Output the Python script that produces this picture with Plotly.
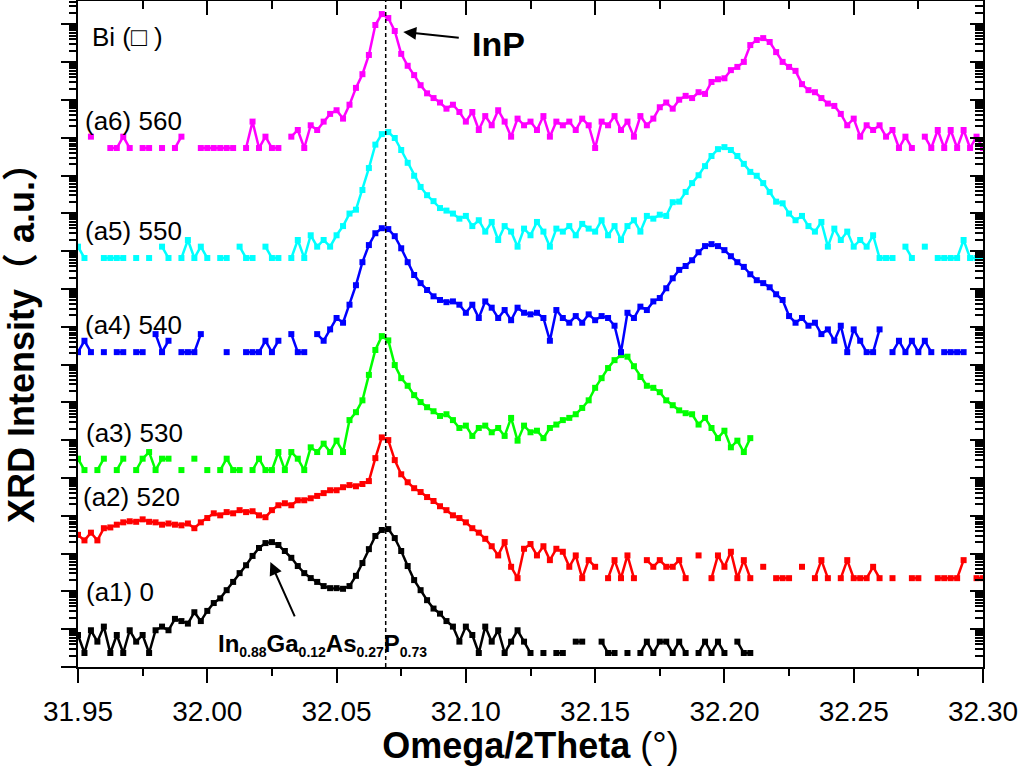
import plotly.graph_objects as go

# ---- scan grid ----
x_start = 31.95
x_step = 0.0025

# ---- counts (0 = no counts -> gap on log scale) ----
a1_counts = [3, 1, 4, 2, 5, 1, 3, 1, 4, 2, 3, 1,
             4, 5, 4,
             8, 7, 6, 12, 7, 13,
             21, 28, 46, 76, 130, 210, 370, 600, 810, 860,
             720, 500, 330, 200, 130, 96, 76, 59, 52, 52, 50, 59,
             110, 240, 560, 1250, 1800, 1900, 1100, 500, 200, 85, 46, 25, 15, 11, 7,
             5, 2, 5, 3, 1, 5, 2, 4, 1, 2, 4,
             2, 1, 0, 1, 0, 1, 1, 0, 2, 2, 0, 0, 2, 1, 1, 0, 1, 0, 1,
             2, 1, 2, 2, 1, 2, 1, 0, 1, 2, 1, 2, 1, 0, 2, 1, 1]

a2_counts = [14, 10, 16, 10, 21, 22, 26, 30, 32, 31,
             36, 31, 30, 26, 28, 26, 25, 28, 21, 30,
             39, 52, 46, 56, 52, 63, 56, 59, 46, 41,
             63, 85, 96, 85, 115, 115, 130, 150, 178, 212,
             212, 255, 290, 270, 310, 370,
             1500, 5300, 4500, 1330,
             560, 345, 240, 190, 140, 110, 80, 63, 46, 39, 30, 21, 16, 11, 7,
             4, 9, 2, 1, 6, 8, 4, 7, 3, 6, 5, 2, 4, 1, 3,
             2, 0, 1, 3, 1, 4, 1, 0, 3, 2, 3, 2,
             2, 3, 1, 0, 4, 0, 1, 4, 2, 5,
             1, 3, 1, 0, 2, 0, 1, 1, 1, 0,
             2, 0, 1, 3, 1, 0, 1, 3, 1, 1,
             1, 2, 1, 0, 1, 0, 0, 1, 1, 0,
             0, 1, 1, 1, 1, 3, 0, 1, 1]

a3_counts = [2, 1, 0, 1, 2, 0, 1, 2, 0, 1, 2, 3, 1, 2, 2, 0, 1, 0, 2, 0,
             1, 0, 1, 2, 1, 1, 0, 1, 2, 1,
             1, 3, 1, 3, 2, 1, 4, 3, 5, 3, 6, 3,
             21, 34, 70, 330, 1500, 3500, 2700, 600, 270, 170, 96, 63, 46, 36, 27,
             30, 21, 13, 15, 8, 13, 15, 10, 13, 8, 24, 6, 15, 10, 11, 7, 13, 16, 21, 24, 30,
             44, 70, 150, 270, 500, 810, 1100, 1000, 560, 290, 170, 150, 115, 70,
             52, 38, 32, 30, 16, 24, 13, 7, 11, 4, 6, 3, 7]

a4_counts = [1, 2, 1, 0, 1, 0, 1, 1, 0, 1, 1, 0, 3, 1, 2, 0, 1, 1, 1, 3,
             0, 0, 0, 1, 0, 0, 1,
             1, 1, 2, 1, 2, 0, 3, 1, 1, 0, 3, 2,
             4, 8, 6, 18, 59, 240, 680, 1400, 1900, 1800, 1170, 560, 240, 110, 67, 44,
             30, 24, 21, 22, 18,
             11, 18, 8, 22, 15, 8, 13, 7, 15, 11, 10, 11, 8, 2, 13, 8, 6, 9, 6, 10,
             7, 9, 8, 5, 1,
             11, 8, 16, 13, 22, 27, 49, 90, 150, 190, 270, 440, 640, 720, 640, 500,
             345, 240, 180, 115, 80, 67, 52, 34, 24,
             9, 6, 8, 5, 6, 3, 4, 2, 5, 1, 4, 2, 1, 1, 4, 0, 1, 2, 1, 2, 1, 2, 1, 0,
             1, 1, 1, 1]

a5_counts = [2, 1, 0, 0, 1, 1, 1, 1, 0, 1, 0, 1, 0, 2, 1, 0, 1, 3, 1, 2,
             1, 0, 1, 1, 0, 2, 1, 1, 0, 2, 1, 1, 0, 1, 3,
             1, 4, 2, 3,
             2, 4, 7, 15, 19, 63, 240, 1000, 1900, 2150, 1500, 720, 330, 150, 76, 46,
             32, 21, 18, 15,
             11, 13, 7, 10, 5, 9, 3, 7, 5, 2, 6, 4, 9, 5, 2, 6, 5, 7, 4, 8, 6, 5, 10,
             4, 7, 3, 7, 10, 5, 13, 11, 14, 13,
             30, 31, 56, 96, 155, 270, 500, 760, 860, 720, 500, 310, 190, 150, 96, 56,
             31, 28, 15, 10, 13, 7, 5, 9,
             2, 6, 3, 5, 2, 3, 2, 4, 1, 1, 1, 0, 2, 1, 0, 2, 0, 1, 1, 1, 1, 3, 1, 1, 1]

a6_counts = [0, 0, 2, 0, 0, 1, 1, 2, 1, 0, 1, 1, 0, 1, 0, 1, 2, 0, 0, 1,
             1, 1, 1, 1, 1, 0, 1, 5, 1, 2, 1, 1, 0, 2, 3,
             1, 4, 3, 5, 8, 10, 6, 14,
             39, 90, 290, 1800, 3500, 2750, 1250, 310, 150, 85, 46, 28, 21, 16, 11, 14,
             9, 5, 9, 3, 7, 4, 10, 5, 2, 6, 4, 5, 3, 7, 2, 5, 4, 5, 3, 6, 4, 1, 5, 4,
             7, 3, 5, 2, 7, 4, 6, 12, 16, 11,
             19, 24, 21, 30, 27, 56, 66, 70, 115, 140, 190, 530, 720, 810, 640, 345,
             190, 140, 110, 49, 34, 30, 21, 15, 13, 8,
             4, 6, 2, 4, 3, 4, 2, 3, 1, 2, 1, 0, 2, 1, 3, 1, 3, 1, 3, 1, 2, 1]

# vertical stacking offsets (decades) and styling per curve
curve_names = ["(a1) 0", "(a2) 520", "(a3) 530", "(a4) 540", "(a5) 550", "(a6) 560"]
curve_counts = [a1_counts, a2_counts, a3_counts, a4_counts, a5_counts, a6_counts]
curve_offsets = [0.37, 2.35, 5.21, 8.33, 10.82, 13.73]
curve_colors = ["#000000", "#FF0000", "#00FF00", "#0000FF", "#00FFFF", "#FF00FF"]

inp_position = 32.069

FONT = "Liberation Sans, Arial, Noto Sans CJK SC, sans-serif"

fig = go.Figure()
for name, counts, off, col in zip(curve_names, curve_counts, curve_offsets, curve_colors):
    xs = [round(x_start + x_step * i, 4) for i in range(len(counts))]
    ys = [(10 ** off) * c if c > 0 else None for c in counts]
    fig.add_trace(go.Scatter(
        x=xs, y=ys, mode="lines+markers", name=name,
        line=dict(color=col, width=2.5),
        marker=dict(symbol="square", size=6, color=col, line=dict(width=0)),
        connectgaps=False, showlegend=False, hoverinfo="skip"))

# dummy trace so the mirrored (top / right) axes are drawn
fig.add_trace(go.Scatter(x=[None], y=[None], xaxis="x2", yaxis="y2",
                         showlegend=False, hoverinfo="skip"))

ymax = 17.62
xr = [31.95, 32.30]

fig.update_layout(
    width=1020, height=766,
    margin=dict(l=78, r=37, t=1, b=99),
    paper_bgcolor="white", plot_bgcolor="white",
    font=dict(family=FONT, color="black"),
    xaxis=dict(range=xr, tick0=31.95, dtick=0.05, tickformat=".2f",
               ticks="outside", ticklen=14, tickwidth=2, tickcolor="black",
               minor=dict(ticks="outside", dtick=0.025, ticklen=7, tickwidth=2,
                          tickcolor="black"),
               showline=True, linewidth=2, linecolor="black", showgrid=False,
               zeroline=False, tickfont=dict(size=28, family=FONT),
               ticklabelstandoff=4,
               title=dict(text="<b>Omega/2Theta</b> (°)", font=dict(size=36, family=FONT),
                          standoff=10)),
    xaxis2=dict(range=xr, overlaying="x", side="top", anchor="y",
                tick0=31.95, dtick=0.05, ticks="inside", ticklen=14, tickwidth=2,
                tickcolor="black",
                minor=dict(ticks="inside", dtick=0.025, ticklen=8, tickwidth=2,
                           tickcolor="black"),
                showline=True, linewidth=2, linecolor="black", showgrid=False,
                zeroline=False, showticklabels=False),
    yaxis=dict(type="log", range=[0, ymax], dtick=1,
               ticks="outside", ticklen=15, tickwidth=2, tickcolor="black",
               minor=dict(ticks="outside", dtick="D1", ticklen=7, tickwidth=1.5,
                          tickcolor="black"),
               showline=True, linewidth=2, linecolor="black", showgrid=False,
               zeroline=False, showticklabels=False,
               title=dict(text="<b>XRD Intensity（ a.u.）</b>",
                          font=dict(size=36, family=FONT), standoff=15)),
    yaxis2=dict(type="log", range=[0, ymax], overlaying="y", side="right", anchor="x",
                dtick=1, ticks="inside", ticklen=13, tickwidth=2, tickcolor="black",
                minor=dict(ticks="inside", dtick="D1", ticklen=8, tickwidth=1.5,
                           tickcolor="black"),
                showline=True, linewidth=2, linecolor="black", showgrid=False,
                zeroline=False, showticklabels=False),
    shapes=[dict(type="line", xref="x", yref="paper", x0=inp_position, x1=inp_position,
                 y0=0, y1=1, line=dict(color="black", width=1.5, dash="4px,3px"))],
)

# curve labels
label_x = [31.9524, 31.9513, 31.9524, 31.9521, 31.9521, 31.9521]
label_y = [1.98, 4.50, 6.19, 9.05, 11.53, 14.44]
for name, lx, ly in zip(curve_names, label_x, label_y):
    fig.add_annotation(x=lx, y=ly, text=name, showarrow=False, xanchor="left",
                       yanchor="middle", font=dict(size=26, family=FONT))

fig.add_annotation(x=31.9548, y=16.67, text="Bi (□ )", showarrow=False,
                   xanchor="left", yanchor="middle", font=dict(size=26, family=FONT))

# InP label and arrow
fig.add_annotation(x=32.1125, y=16.48, text="<b>InP</b>", showarrow=False,
                   xanchor="center", yanchor="middle", font=dict(size=34, family=FONT))
fig.add_annotation(x=32.0758, y=16.80, text="", showarrow=True, ax=57, ay=6,
                   arrowhead=2, arrowsize=1.3, arrowwidth=2, arrowcolor="black")

# InGaAsP label and arrow
sub = "<sub><span style='font-size:14px'>%s</span></sub>"
fig.add_annotation(x=32.0032, y=0.58,
                   text="<b>In" + sub % "0.88" + "Ga" + sub % "0.12" + "As" + sub % "0.27"
                        + "P" + sub % "0.73" + "</b>",
                   showarrow=False, xanchor="left", yanchor="middle",
                   font=dict(size=24, family=FONT))
fig.add_annotation(x=32.0244, y=2.78, text="", showarrow=True, ax=25, ay=56,
                   arrowhead=2, arrowsize=1.3, arrowwidth=2, arrowcolor="black")

fig.write_html("out.html")
